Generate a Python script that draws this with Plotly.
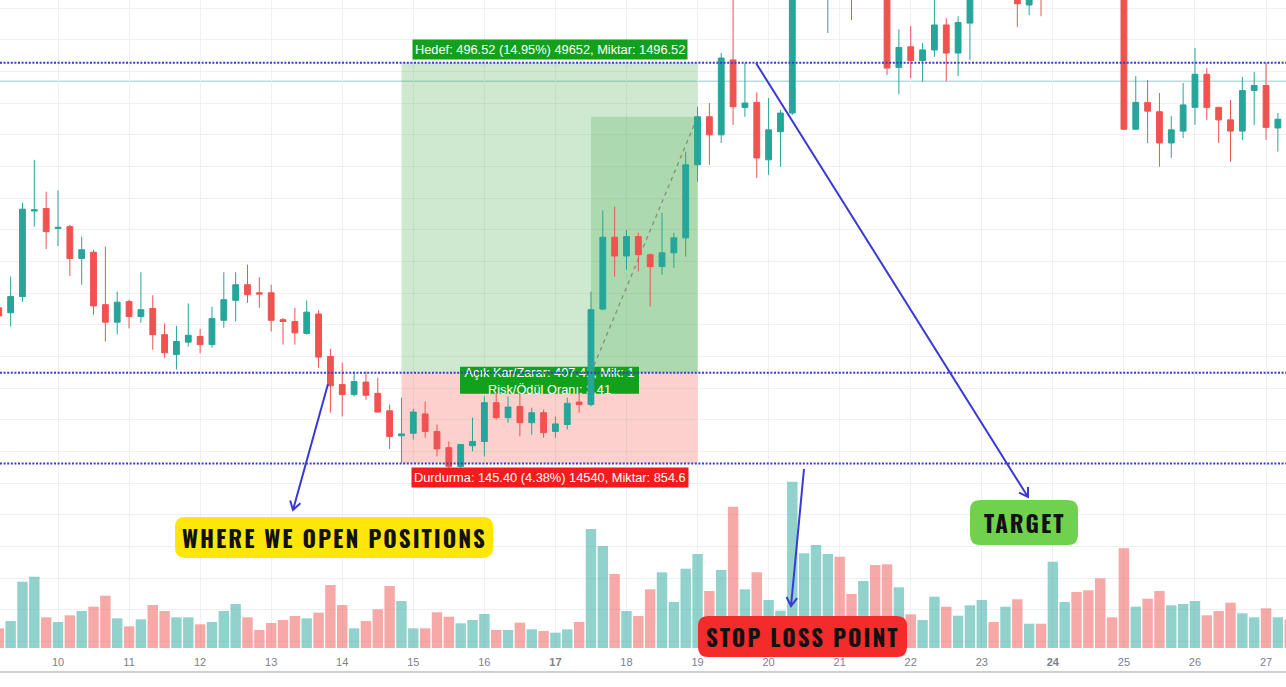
import math
import plotly.graph_objects as go

# ---------------- data (4-hour bars, day 10 00:00 = bar 0) ----------------
FIRST_BAR = -5
BARS_PER_DAY = 6

opens = [3424, 3416, 3442, 3579, 3583, 3551, 3554, 3503, 3513, 3429,
         3401, 3434, 3410, 3423, 3381, 3349, 3369, 3378, 3365, 3404,
         3436, 3461, 3448, 3448, 3405, 3402, 3383, 3414, 3346, 3301,
         3285, 3305, 3287, 3259, 3219, 3223, 3254, 3226, 3200, 3170,
         3203, 3210, 3272, 3248, 3266, 3240, 3256, 3226, 3237, 3273,
         3269, 3422, 3537, 3507, 3538, 3509, 3490, 3512, 3536, 3653,
         3730, 3701, 3821, 3745, 3753, 3661, 3706, 3736, 3940, 3935,
         3950, 3995, 3960, 3930, 3965, 3945, 3809, 3842, 3820, 3837,
         3877, 3832, 3880, 3949, 3990, 3960, 3985, 3909, 3935, 3922,
         3975, 4000, 3985, 3970, 3950, 3945, 3710, 3753, 3738, 3688,
         3707, 3745, 3798, 3745, 3725, 3707, 3772, 3780, 3712, 3726]
highs = [3437, 3474, 3592, 3661, 3610, 3612, 3557, 3538, 3517, 3522,
         3450, 3437, 3481, 3444, 3399, 3395, 3431, 3390, 3426, 3481,
         3481, 3493, 3473, 3461, 3408, 3424, 3436, 3420, 3358, 3336,
         3322, 3322, 3312, 3269, 3280, 3262, 3274, 3237, 3210, 3206,
         3248, 3282, 3288, 3282, 3288, 3264, 3261, 3250, 3280, 3288,
         3450, 3580, 3586, 3549, 3544, 3511, 3576, 3544, 3674, 3746,
         3752, 3832, 3925, 3816, 3769, 3760, 3741, 3955, 3965, 3960,
         4010, 4010, 3975, 3980, 3985, 3960, 3870, 3875, 3848, 3925,
         3888, 3891, 3965, 4005, 4000, 4000, 3995, 3950, 3945, 3990,
         4015, 4010, 3995, 3980, 3960, 3955, 3795, 3789, 3768, 3731,
         3784, 3840, 3808, 3746, 3757, 3794, 3802, 3816, 3736, 3735]
lows = [3405, 3394, 3434, 3554, 3518, 3523, 3475, 3461, 3413, 3370,
        3381, 3391, 3400, 3357, 3344, 3325, 3362, 3351, 3360, 3392,
        3402, 3432, 3424, 3386, 3365, 3365, 3381, 3328, 3256, 3250,
        3282, 3277, 3256, 3198, 3176, 3213, 3216, 3186, 3165, 3168,
        3194, 3186, 3245, 3240, 3218, 3221, 3216, 3216, 3229, 3256,
        3266, 3420, 3474, 3485, 3482, 3426, 3477, 3488, 3506, 3626,
        3653, 3688, 3717, 3730, 3632, 3637, 3650, 3733, 3925, 3925,
        3864, 3940, 3885, 3925, 3930, 3797, 3766, 3792, 3786, 3826,
        3787, 3795, 3821, 3935, 3945, 3950, 3874, 3893, 3891, 3925,
        3965, 3970, 3955, 3935, 3930, 3709, 3709, 3688, 3650, 3664,
        3696, 3717, 3725, 3688, 3658, 3693, 3717, 3693, 3674, 3700]
closes = [3411, 3442, 3582, 3581, 3546, 3553, 3503, 3517, 3427, 3401,
          3433, 3410, 3421, 3381, 3352, 3370, 3380, 3365, 3407, 3437,
          3461, 3445, 3446, 3404, 3402, 3384, 3417, 3345, 3299, 3285,
          3306, 3284, 3257, 3218, 3222, 3257, 3226, 3198, 3170, 3205,
          3210, 3272, 3248, 3265, 3240, 3256, 3224, 3238, 3271, 3269,
          3421, 3537, 3507, 3538, 3509, 3490, 3512, 3536, 3653, 3730,
          3701, 3824, 3746, 3752, 3664, 3709, 3736, 3940, 3952, 3950,
          3995, 3960, 3930, 3965, 3945, 3808, 3841, 3820, 3837, 3877,
          3832, 3881, 3949, 3990, 3960, 3985, 3911, 3935, 3922, 3975,
          4000, 3985, 3970, 3950, 3945, 3710, 3753, 3739, 3688, 3709,
          3749, 3798, 3745, 3725, 3707, 3772, 3780, 3713, 3726, 3715]
volumes = [197, 270, 663, 713, 307, 260, 327, 370, 413, 523,
           297, 217, 287, 430, 370, 307, 307, 237, 260, 370,
           440, 307, 180, 250, 280, 320, 297, 353, 630, 430,
           197, 270, 387, 620, 470, 197, 197, 357, 313, 247,
           280, 340, 180, 180, 253, 187, 170, 153, 187, 260,
           1190, 1020, 740, 370, 320, 587, 757, 460, 793, 940,
           570, 780, 1413, 587, 757, 480, 373, 1663, 947, 1030,
           940, 913, 540, 670, 830, 837, 607, 337, 280, 513,
           413, 323, 427, 480, 260, 413, 487, 243, 243, 863,
           460, 560, 577, 697, 307, 997, 413, 493, 570, 427,
           440, 470, 327, 370, 453, 347, 307, 397, 307, 287]

day_ticks = list(range(10, 28))
bold_days = [17, 24]
day_labels = [f"<b>{d}</b>" if d in bold_days else str(d) for d in day_ticks]

# long-position tool
ENTRY = 3320.00
TARGET_DIST = 496.52
STOP_DIST = 145.40
TARGET = ENTRY + TARGET_DIST
STOP = ENTRY - STOP_DIST
POS_START_BAR = 29
POS_NOW_BAR = 45
POS_END_BAR = 54
LAST_PRICE_LINE = 3787

label_target = "Hedef: 496.52 (14.95%) 49652, Miktar: 1496.52"
label_stop = "Durdurma: 145.40 (4.38%) 14540, Miktar: 854.6"
label_mid = "Açık Kar/Zarar: 407.41, Mik: 1<br>Risk/Ödül Oranı: 3.41"

# ---------------- geometry ----------------
W, H_FIG = 1286, 687
H = 648  # plot-area height
X_RANGE = [9.1838, 27.281]
Y_RANGE = [2879.1, 3917.0]
VOL_RANGE = [0, 6480]

GREEN = "#26a69a"
RED = "#ef5350"
BLUE = "#3b39d6"
GRID = "#eef0f5"
LABEL_FONT = dict(color="white", size=12.8, family="Liberation Sans, Arial")

x = [10 + (i + FIRST_BAR) / BARS_PER_DAY for i in range(len(opens))]
idx = lambda bar: bar - FIRST_BAR


def P(px, py):
    return px / W, 1 - py / H


def day_span(px):
    return px * (X_RANGE[1] - X_RANGE[0]) / W


def price_span(py):
    return py * (Y_RANGE[1] - Y_RANGE[0]) / H


def rrect_path(px0, py0, px1, py1, r):
    def f(a, b):
        u, v = P(a, b)
        return f"{u:.5f},{v:.5f}"
    return (f"M {f(px0 + r, py0)} L {f(px1 - r, py0)} Q {f(px1, py0)} {f(px1, py0 + r)} "
            f"L {f(px1, py1 - r)} Q {f(px1, py1)} {f(px1 - r, py1)} "
            f"L {f(px0 + r, py1)} Q {f(px0, py1)} {f(px0, py1 - r)} "
            f"L {f(px0, py0 + r)} Q {f(px0, py0)} {f(px0 + r, py0)} Z")


def arrow_path(px0, py0, px1, py1, head=10, ang=32):
    dx, dy = px1 - px0, py1 - py0
    L = math.hypot(dx, dy)
    ux, uy = -dx / L, -dy / L
    pts = []
    for s in (1, -1):
        a = math.radians(ang * s)
        rx = ux * math.cos(a) - uy * math.sin(a)
        ry = ux * math.sin(a) + uy * math.cos(a)
        pts.append((px1 + rx * head, py1 + ry * head))

    def f(a, b):
        u, v = P(a, b)
        return f"{u:.5f},{v:.5f}"
    return (f"M {f(px0, py0)} L {f(px1, py1)} "
            f"M {f(*pts[0])} L {f(px1, py1)} L {f(*pts[1])}")


fig = go.Figure()

vol_colors = ["rgba(38,166,154,0.5)" if c >= o else "rgba(239,83,80,0.5)"
              for o, c in zip(opens, closes)]
fig.add_trace(go.Bar(x=x, y=volumes, marker=dict(color=vol_colors, line=dict(width=0)),
                     yaxis="y2", hoverinfo="skip"))
fig.add_trace(go.Candlestick(
    x=x, open=opens, high=highs, low=lows, close=closes,
    increasing=dict(line=dict(color=GREEN, width=1), fillcolor=GREEN),
    decreasing=dict(line=dict(color=RED, width=1), fillcolor=RED),
    whiskerwidth=0, yaxis="y", hoverinfo="skip"))

xs, xn, xe = x[idx(POS_START_BAR)], x[idx(POS_NOW_BAR)], x[idx(POS_END_BAR)]
cur_price = closes[idx(POS_END_BAR)]
mid = (xs + xe) / 2

shapes = [
    dict(type="rect", xref="x", yref="y", x0=xs, x1=xe, y0=ENTRY, y1=TARGET,
         fillcolor="rgba(76,175,80,0.27)", line=dict(width=0), layer="between"),
    dict(type="rect", xref="x", yref="y", x0=xn, x1=xe, y0=ENTRY, y1=cur_price,
         fillcolor="rgba(76,175,80,0.27)", line=dict(width=0), layer="between"),
    dict(type="rect", xref="x", yref="y", x0=xs, x1=xe, y0=STOP, y1=ENTRY,
         fillcolor="rgba(244,67,54,0.25)", line=dict(width=0), layer="between"),
    dict(type="line", xref="x", yref="y", x0=xn, x1=xe, y0=ENTRY, y1=cur_price,
         line=dict(color="#8a8a8a", width=1.3, dash="4px,4px"), layer="between"),
    dict(type="rect", xref="x", yref="y",
         x0=mid - day_span(89.5), x1=mid + day_span(89.5),
         y0=ENTRY - price_span(21), y1=ENTRY + price_span(6),
         fillcolor="#12a11c", line=dict(width=0), layer="between",
         label=dict(text=label_mid, font=LABEL_FONT, textposition="middle center")),
    dict(type="line", xref="paper", yref="y", x0=0, x1=1, y0=LAST_PRICE_LINE, y1=LAST_PRICE_LINE,
         line=dict(color="rgba(38,166,154,0.35)", width=1.5), layer="between"),
]
for lvl in (TARGET, ENTRY, STOP):
    shapes.append(dict(type="line", xref="paper", yref="y", x0=0, x1=1, y0=lvl, y1=lvl,
                       line=dict(color=BLUE, width=2, dash="2px,1.6px"), layer="above"))

# arrows
for a in [(328, 384, 293, 510), (804, 469, 791, 606), (756, 63, 1028, 497)]:
    shapes.append(dict(type="path", xref="paper", yref="paper", path=arrow_path(*a),
                       line=dict(color=BLUE, width=2), fillcolor="rgba(0,0,0,0)", layer="above"))

# callout boxes
callouts = [
    ("WHERE WE OPEN POSITIONS", (175, 517, 493, 558), "#ffe60a"),
    ("STOP LOSS POINT", (698, 616, 907, 657), "#f42b2b"),
    ("TARGET", (970, 500, 1078, 545), "#70d24c"),
]
annotations = []
CALLOUT_FONT = "Oswald, 'Liberation Sans Narrow', 'DejaVu Sans Condensed', sans-serif"
for text, (a, b, c, d), col in callouts:
    shapes.append(dict(type="path", xref="paper", yref="paper", path=rrect_path(a, b, c, d, 10),
                       fillcolor=col, line=dict(width=0), layer="above"))
    cx, cy = P((a + c) / 2, (b + d) / 2)
    annotations.append(dict(xref="paper", yref="paper", x=cx, y=cy, xanchor="center", yanchor="middle",
                            text=f"<span style='letter-spacing:2px'><b>{text}</b></span>",
                            showarrow=False, font=dict(family=CALLOUT_FONT, size=23, color="#111111")))

# bottom border line
_, yb = P(0, 672)
shapes.append(dict(type="line", xref="paper", yref="paper", x0=0, x1=1, y0=yb, y1=yb,
                   line=dict(color="#cfcfcf", width=2), layer="above"))

annotations += [
    dict(xref="x", yref="y", x=mid, y=TARGET, xanchor="center", yanchor="bottom", yshift=3,
         text=label_target, showarrow=False, bgcolor="#12a11c", borderpad=2, font=LABEL_FONT),
    dict(xref="x", yref="y", x=mid, y=STOP, xanchor="center", yanchor="top", yshift=-3,
         text=label_stop, showarrow=False, bgcolor="#f21c1c", borderpad=2, font=LABEL_FONT),
]

fig.update_layout(
    width=W, height=H_FIG,
    margin=dict(l=0, r=0, t=0, b=H_FIG - H, pad=0),
    paper_bgcolor="white", plot_bgcolor="white",
    showlegend=False, bargap=0.12,
    shapes=shapes, annotations=annotations,
    xaxis=dict(range=X_RANGE, tickvals=day_ticks, ticktext=day_labels,
               showgrid=True, gridcolor=GRID, gridwidth=1, zeroline=False, showline=False,
               ticks="", ticklabelstandoff=6,
               tickfont=dict(size=11, color="#7d818c", family="Liberation Sans, Arial"),
               rangeslider=dict(visible=False), fixedrange=True),
    yaxis=dict(range=Y_RANGE, tick0=3903.7, dtick=50.7, showticklabels=False,
               showgrid=True, gridcolor=GRID, gridwidth=1, zeroline=False, fixedrange=True),
    yaxis2=dict(range=VOL_RANGE, overlaying="y", visible=False, fixedrange=True),
)

fig.write_html("out.html", config={"displayModeBar": False},
               post_script="document.body.style.margin='0px'; document.body.style.overflow='hidden';")
